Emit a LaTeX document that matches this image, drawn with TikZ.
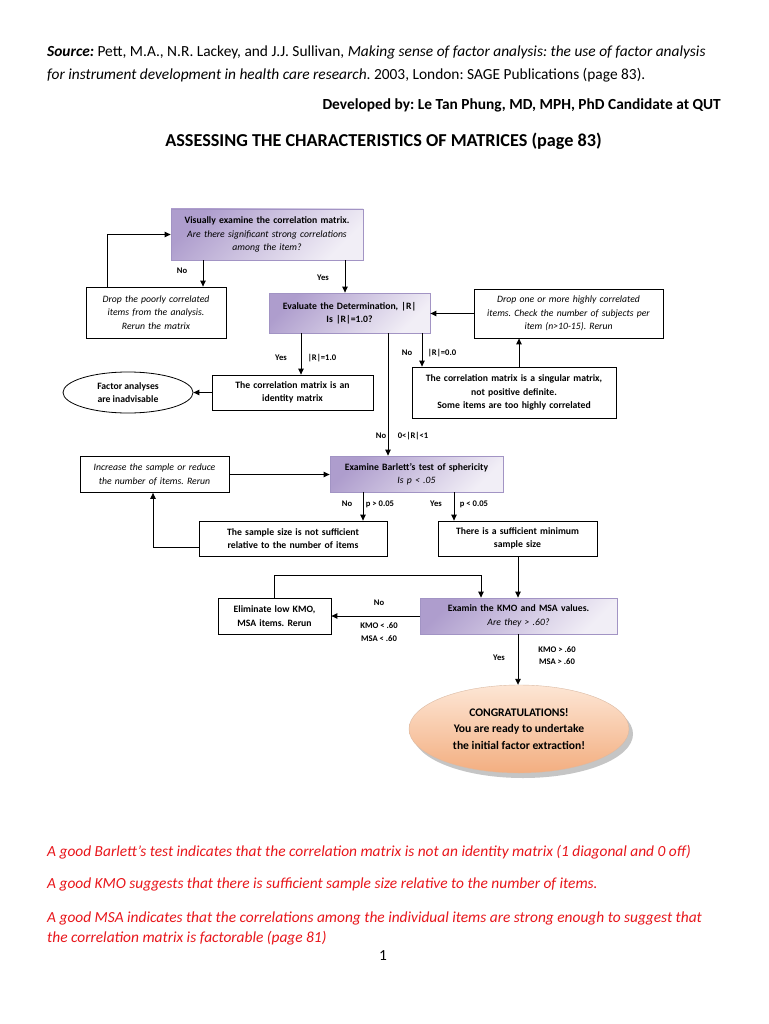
\documentclass[tikz,border=0pt]{standalone}
\usepackage{fontspec}
\setmainfont{Carlito}
\usetikzlibrary{arrows.meta,shapes.geometric,shadows,calc}
\definecolor{purpD}{HTML}{AE9DCD}
\definecolor{purpL}{HTML}{F1EEF6}
\definecolor{purpB}{HTML}{A294C4}
\definecolor{peachL}{HTML}{FDE6D5}
\definecolor{peachD}{HTML}{F3AE80}
\definecolor{redtxt}{HTML}{E8161B}
\newcommand\fsmall{\fontsize{9.7}{13.5}\selectfont}
\newcommand\flab{\fontsize{8.6}{12.5}\selectfont\bfseries}
\newcommand\fbody{\fontsize{15.4}{18}\selectfont}
\frenchspacing
\begin{document}
\begin{tikzpicture}[x=1pt,y=-1pt,
  box/.style={draw, line width=0.8pt, fill=white, align=center, inner sep=0pt, font=\fsmall},
  pbox/.style={box, draw=purpB, top color=purpD, bottom color=purpL, shading angle=45},
  arr/.style={line width=0.9pt, -{Triangle[length=6pt,width=5.5pt]}},
  ln/.style={line width=0.9pt},
  lab/.style={font=\flab, inner sep=0pt},
  txt/.style={anchor=base west, inner sep=0pt, font=\fbody}]
\useasboundingbox (0,0) rectangle (768,1024);
\fill[white] (0,0) rectangle (768,1024);

% header
\node[txt] (h1) at (47,57) {\textbf{\textit{Source:}} Pett, M.A., N.R. Lackey, and J.J. Sullivan, \textit{Making sense of factor analysis: the use of factor analysis}};
\node[txt] (h2) at (47,80) {\textit{for instrument development in health care research}. 2003, London: SAGE Publications (page 83).};
\node[txt, anchor=base east] (h3) at (721,110) {\textbf{Developed by: Le Tan Phung, MD, MPH, PhD Candidate at QUT}};
\node[inner sep=0pt, anchor=base, font=\fontsize{18.2}{20}\selectfont\bfseries] (title) at (383.5,147) {ASSESSING THE CHARACTERISTICS OF MATRICES (page 83)};

% coordinates for connector x/y positions
\coordinate (x107) at (107,0);
\coordinate (x203) at (203,0);
\coordinate (x345) at (345,0);
\coordinate (x301) at (301,0);
\coordinate (x388) at (388,0);
\coordinate (x422) at (422,0);
\coordinate (x519) at (519,0);
\coordinate (x363) at (363,0);
\coordinate (x454) at (454,0);
\coordinate (x153) at (153,0);
\coordinate (x518) at (518,0);
\coordinate (x481) at (481,0);
\coordinate (y575) at (0,575);
\coordinate (y547) at (0,547);

% nodes
\node[pbox, minimum width=192, minimum height=51, text width=190] (top) at (267,234.5)
  {\textbf{Visually examine the correlation matrix.}\\\textit{Are there significant strong correlations}\\\textit{among the item?}};
\node[box, minimum width=140, minimum height=51, text width=138, font=\fsmall\itshape] (droppoor) at (156,312.5)
  {Drop the poorly correlated\\items from the analysis.\\Rerun the matrix};
\node[pbox, minimum width=161, minimum height=40, text width=159, font=\fsmall\bfseries] (eval) at (349.5,313)
  {Evaluate the Determination, |R|\\Is |R|=1.0?};
\node[box, minimum width=189, minimum height=49, text width=187, font=\fsmall\itshape] (dropone) at (568.5,313.5)
  {Drop one or more highly correlated\\items. Check the number of subjects per\\item (n>10-15). Rerun};
\node[box, minimum width=161, minimum height=35, text width=159, font=\fsmall\bfseries] (identity) at (292.5,392.5)
  {The correlation matrix is an\\identity matrix};
\node[box, ellipse, minimum width=130, minimum height=41, font=\fsmall\bfseries] (inadv) at (128,392.5)
  {Factor analyses\\are inadvisable};
\node[box, minimum width=204, minimum height=51, text width=202, font=\fsmall\bfseries] (singular) at (514,392.5)
  {The correlation matrix is a singular matrix,\\not positive definite.\\Some items are too highly correlated};
\node[box, minimum width=149, minimum height=36, text width=147, font=\fsmall\itshape] (increase) at (154.5,474.5)
  {Increase the sample or reduce\\the number of items. Rerun};
\node[pbox, minimum width=173, minimum height=36, text width=171] (barlett) at (416.5,474)
  {\textbf{Examine Barlett's test of sphericity}\\\textit{Is p < .05}};
\node[box, minimum width=188, minimum height=35, text width=186, font=\fsmall\bfseries] (notsuff) at (293,538.5)
  {The sample size is not sufficient\\relative to the number of items};
\node[box, minimum width=159, minimum height=35, text width=157, font=\fsmall\bfseries] (suff) at (517.5,538.5)
  {There is a sufficient minimum\\sample size};
\node[box, minimum width=113, minimum height=36, text width=111, font=\fsmall\bfseries] (elim) at (274.5,616)
  {Eliminate low KMO,\\MSA items. Rerun};
\node[pbox, minimum width=197, minimum height=36, text width=195] (kmo) at (518.5,616)
  {\textbf{Examin the KMO and MSA values.}\\\textit{Are they > .60?}};
\node[ellipse, draw=peachD!80!black!60, line width=0.4pt, top color=peachL, bottom color=peachD,
  drop shadow={shadow xshift=4pt, shadow yshift=-5pt, fill=black!45},
  minimum width=220, minimum height=88, align=center, inner sep=0pt,
  font=\fontsize{11.6}{16.5}\selectfont\bfseries] (congr) at (519,729)
  {CONGRATULATIONS!\\You are ready to undertake\\the initial factor extraction!};

% connectors
\draw[arr] (top.south -| x203) -- (droppoor.north -| x203);
\draw[arr] (top.south -| x345) -- (eval.north -| x345);
\draw[arr] (droppoor.north -| x107) |- (top.west);
\draw[arr] (dropone.west) -- (dropone.west -| eval.east);
\draw[arr] (eval.south -| x301) -- (identity.north -| x301);
\draw[arr] (eval.south -| x388) -- (barlett.north -| x388);
\draw[arr] (eval.south -| x422) -- (singular.north -| x422);
\draw[arr] (singular.north -| x519) -- (dropone.south -| x519);
\draw[arr] (identity.west) -- (inadv.east);
\draw[arr] (increase.east) -- (increase.east -| barlett.west);
\draw[arr] (barlett.south -| x363) -- (notsuff.north -| x363);
\draw[arr] (barlett.south -| x454) -- (suff.north -| x454);
\draw[arr] (notsuff.west |- y547) -| (increase.south -| x153);
\draw[arr] (suff.south -| x518) -- (kmo.north -| x518);
\draw[arr] (elim.north) -- (elim.north |- y575) -| (kmo.north -| x481);
\draw[arr] (kmo.west) -- (kmo.west -| elim.east);
\draw[arr] (kmo.south -| x518) -- (congr.north -| x518);

% labels
\node[lab] (l1) at (182,271) {No};
\node[lab] (l2) at (323,278) {Yes};
\node[lab] (l3) at (281,358) {Yes};
\node[lab] (l4) at (322,358) {|R|=1.0};
\node[lab] (l5) at (407,353) {No};
\node[lab] (l6) at (442,353) {|R|=0.0};
\node[lab] (l7) at (381,436) {No};
\node[lab] (l8) at (413,436) {0<|R|<1};
\node[lab] (l9) at (347,504) {No};
\node[lab] (l10) at (380,504) {p > 0.05};
\node[lab] (l11) at (436,504) {Yes};
\node[lab] (l12) at (474,504) {p < 0.05};
\node[lab] (l13) at (379,603) {No};
\node[lab] (l14) at (379,626) {KMO < .60};
\node[lab] (l15) at (379,639) {MSA < .60};
\node[lab] (l16) at (499,658) {Yes};
\node[lab] (l17) at (557,650) {KMO > .60};
\node[lab] (l18) at (557,662) {MSA > .60};

% red notes
\node[txt, text=redtxt, font=\fbody\itshape] (r1) at (47,856) {A good Barlett’s test indicates that the correlation matrix is not an identity matrix (1 diagonal and 0 off)};
\node[txt, text=redtxt, font=\fbody\itshape] (r2) at (47,888) {A good KMO suggests that there is sufficient sample size relative to the number of items.};
\node[txt, text=redtxt, font=\fbody\itshape] (r3) at (47,922) {A good MSA indicates that the correlations among the individual items are strong enough to suggest that};
\node[txt, text=redtxt, font=\fbody\itshape] (r4) at (47,942) {the correlation matrix is factorable (page 81)};
\node[txt, anchor=base] (pg) at (383,960) {1};
\end{tikzpicture}
\end{document}
